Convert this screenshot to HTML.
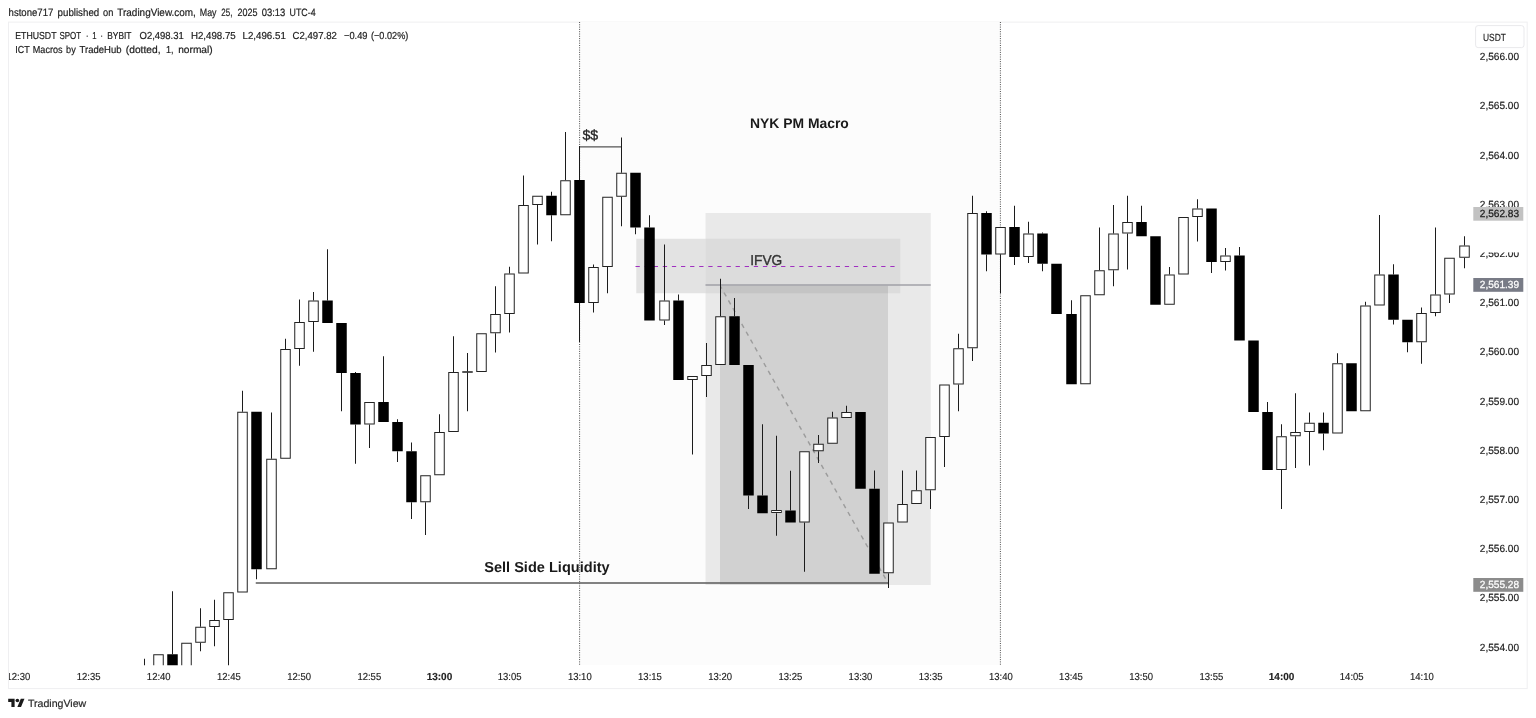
<!DOCTYPE html>
<html lang="en"><head><meta charset="utf-8"><title>ETHUSDT SPOT chart - TradingView</title>
<style>html,body{margin:0;padding:0;background:#fff;overflow:hidden}svg{display:block}text{font-family:'Liberation Sans', Arial, sans-serif;text-rendering:geometricPrecision}</style></head><body>
<svg width="1536" height="718" viewBox="0 0 1536 718">
<rect width="1536" height="718" fill="#fff"/>
<defs><clipPath id="pane"><rect x="9" y="22" width="1517" height="643.30"/></clipPath>
<clipPath id="frame"><rect x="9" y="22" width="1517" height="666"/></clipPath></defs>
<rect x="8.5" y="22.1" width="1518.7" height="666.5" fill="#fff" stroke="#efeff1" stroke-width="1"/>
<g clip-path="url(#pane)">
<rect x="579.5" y="22" width="421" height="643" fill="#fcfcfc"/>
<rect x="636.25" y="238.75" width="70" height="54.5" fill="#e3e3e3"/>
<rect x="705.5" y="213" width="225.25" height="372" fill="#e9e9e9"/>
<rect x="705.5" y="238.75" width="194.75" height="54.5" fill="#dcdcdc"/>
<rect x="720" y="285.75" width="168" height="298.75" fill="#d1d1d1"/>
<rect x="720" y="285.75" width="168" height="7.5" fill="#c4c4c4"/>
<line x1="705.5" y1="284.9" x2="930.75" y2="284.9" stroke="#a0a0a7" stroke-width="1.5"/>
<line x1="635.5" y1="266.5" x2="897.5" y2="266.5" stroke="#a030c0" stroke-width="1" stroke-dasharray="4.3 4.8"/>
<line x1="720.6" y1="286.5" x2="888" y2="583" stroke="#9c9c9c" stroke-width="1.45" stroke-dasharray="4.5 4.5" stroke-dashoffset="2.05"/>
<line x1="579.6" y1="22" x2="579.6" y2="665" stroke="#3a3a3a" stroke-width="0.9" stroke-dasharray="1 1.3"/>
<line x1="1000.4" y1="22" x2="1000.4" y2="665" stroke="#3a3a3a" stroke-width="0.9" stroke-dasharray="1 1.3"/>
<line x1="255.75" y1="583" x2="888" y2="583" stroke="#5a5a5a" stroke-width="1.4"/>
<line x1="579.5" y1="146.8" x2="622" y2="146.8" stroke="#555" stroke-width="1.2"/>
<line x1="144.50" y1="658.75" x2="144.50" y2="690.00" stroke="#1c1c1c" stroke-width="1"/>
<rect x="139.75" y="690.50" width="9.50" height="9.00" fill="#fff" stroke="#222" stroke-width="1"/>
<rect x="153.75" y="654.75" width="9.50" height="44.75" fill="#fff" stroke="#222" stroke-width="1"/>
<line x1="172.50" y1="591.25" x2="172.50" y2="654.25" stroke="#1c1c1c" stroke-width="1"/>
<rect x="167.25" y="654.25" width="10.50" height="45.75" fill="#000"/>
<rect x="181.75" y="643.25" width="9.50" height="56.25" fill="#fff" stroke="#222" stroke-width="1"/>
<line x1="200.50" y1="608.25" x2="200.50" y2="626.75" stroke="#1c1c1c" stroke-width="1"/>
<line x1="200.50" y1="642.75" x2="200.50" y2="651.25" stroke="#1c1c1c" stroke-width="1"/>
<rect x="195.75" y="627.25" width="9.50" height="15.00" fill="#fff" stroke="#222" stroke-width="1"/>
<line x1="214.50" y1="599.75" x2="214.50" y2="620.00" stroke="#1c1c1c" stroke-width="1"/>
<line x1="214.50" y1="627.00" x2="214.50" y2="646.25" stroke="#1c1c1c" stroke-width="1"/>
<rect x="209.75" y="620.50" width="9.50" height="6.00" fill="#fff" stroke="#222" stroke-width="1"/>
<line x1="228.50" y1="620.00" x2="228.50" y2="700.00" stroke="#1c1c1c" stroke-width="1"/>
<rect x="223.75" y="592.75" width="9.50" height="26.75" fill="#fff" stroke="#222" stroke-width="1"/>
<line x1="242.50" y1="390.75" x2="242.50" y2="411.75" stroke="#1c1c1c" stroke-width="1"/>
<rect x="237.75" y="412.25" width="9.50" height="179.75" fill="#fff" stroke="#222" stroke-width="1"/>
<line x1="256.50" y1="569.25" x2="256.50" y2="579.25" stroke="#1c1c1c" stroke-width="1"/>
<rect x="251.25" y="411.75" width="10.50" height="157.50" fill="#000"/>
<line x1="271.50" y1="412.50" x2="271.50" y2="458.75" stroke="#1c1c1c" stroke-width="1"/>
<rect x="266.75" y="459.25" width="9.50" height="109.50" fill="#fff" stroke="#222" stroke-width="1"/>
<line x1="285.50" y1="338.75" x2="285.50" y2="349.00" stroke="#1c1c1c" stroke-width="1"/>
<rect x="280.75" y="349.50" width="9.50" height="108.75" fill="#fff" stroke="#222" stroke-width="1"/>
<line x1="299.50" y1="299.50" x2="299.50" y2="322.00" stroke="#1c1c1c" stroke-width="1"/>
<line x1="299.50" y1="349.00" x2="299.50" y2="365.75" stroke="#1c1c1c" stroke-width="1"/>
<rect x="294.75" y="322.50" width="9.50" height="26.00" fill="#fff" stroke="#222" stroke-width="1"/>
<line x1="313.50" y1="292.00" x2="313.50" y2="300.50" stroke="#1c1c1c" stroke-width="1"/>
<line x1="313.50" y1="322.00" x2="313.50" y2="351.75" stroke="#1c1c1c" stroke-width="1"/>
<rect x="308.75" y="301.00" width="9.50" height="20.50" fill="#fff" stroke="#222" stroke-width="1"/>
<line x1="327.50" y1="249.25" x2="327.50" y2="300.50" stroke="#1c1c1c" stroke-width="1"/>
<rect x="322.25" y="300.50" width="10.50" height="22.50" fill="#000"/>
<line x1="341.50" y1="373.00" x2="341.50" y2="411.25" stroke="#1c1c1c" stroke-width="1"/>
<rect x="336.25" y="323.00" width="10.50" height="50.00" fill="#000"/>
<line x1="355.50" y1="372.00" x2="355.50" y2="373.00" stroke="#1c1c1c" stroke-width="1"/>
<line x1="355.50" y1="424.50" x2="355.50" y2="463.75" stroke="#1c1c1c" stroke-width="1"/>
<rect x="350.25" y="373.00" width="10.50" height="51.50" fill="#000"/>
<line x1="369.50" y1="424.50" x2="369.50" y2="448.00" stroke="#1c1c1c" stroke-width="1"/>
<rect x="364.75" y="402.50" width="9.50" height="21.50" fill="#fff" stroke="#222" stroke-width="1"/>
<line x1="383.50" y1="356.25" x2="383.50" y2="402.00" stroke="#1c1c1c" stroke-width="1"/>
<rect x="378.25" y="402.00" width="10.50" height="20.00" fill="#000"/>
<line x1="397.50" y1="419.25" x2="397.50" y2="422.00" stroke="#1c1c1c" stroke-width="1"/>
<line x1="397.50" y1="451.25" x2="397.50" y2="462.00" stroke="#1c1c1c" stroke-width="1"/>
<rect x="392.25" y="422.00" width="10.50" height="29.25" fill="#000"/>
<line x1="411.50" y1="442.50" x2="411.50" y2="451.25" stroke="#1c1c1c" stroke-width="1"/>
<line x1="411.50" y1="502.25" x2="411.50" y2="519.00" stroke="#1c1c1c" stroke-width="1"/>
<rect x="406.25" y="451.25" width="10.50" height="51.00" fill="#000"/>
<line x1="425.50" y1="502.25" x2="425.50" y2="535.00" stroke="#1c1c1c" stroke-width="1"/>
<rect x="420.75" y="475.75" width="9.50" height="26.00" fill="#fff" stroke="#222" stroke-width="1"/>
<line x1="439.50" y1="414.25" x2="439.50" y2="432.00" stroke="#1c1c1c" stroke-width="1"/>
<rect x="434.75" y="432.50" width="9.50" height="42.25" fill="#fff" stroke="#222" stroke-width="1"/>
<line x1="453.50" y1="336.25" x2="453.50" y2="372.00" stroke="#1c1c1c" stroke-width="1"/>
<rect x="448.75" y="372.50" width="9.50" height="59.00" fill="#fff" stroke="#222" stroke-width="1"/>
<line x1="467.50" y1="353.00" x2="467.50" y2="371.50" stroke="#1c1c1c" stroke-width="1"/>
<line x1="467.50" y1="372.50" x2="467.50" y2="411.25" stroke="#1c1c1c" stroke-width="1"/>
<line x1="462.25" y1="372.00" x2="472.75" y2="372.00" stroke="#1c1c1c" stroke-width="1.5"/>
<rect x="476.75" y="333.75" width="9.50" height="37.75" fill="#fff" stroke="#222" stroke-width="1"/>
<line x1="495.50" y1="286.25" x2="495.50" y2="314.00" stroke="#1c1c1c" stroke-width="1"/>
<line x1="495.50" y1="333.25" x2="495.50" y2="352.50" stroke="#1c1c1c" stroke-width="1"/>
<rect x="490.75" y="314.50" width="9.50" height="18.25" fill="#fff" stroke="#222" stroke-width="1"/>
<line x1="509.50" y1="266.75" x2="509.50" y2="273.50" stroke="#1c1c1c" stroke-width="1"/>
<line x1="509.50" y1="314.00" x2="509.50" y2="332.50" stroke="#1c1c1c" stroke-width="1"/>
<rect x="504.75" y="274.00" width="9.50" height="39.50" fill="#fff" stroke="#222" stroke-width="1"/>
<line x1="523.50" y1="175.50" x2="523.50" y2="205.00" stroke="#1c1c1c" stroke-width="1"/>
<rect x="518.75" y="205.50" width="9.50" height="67.50" fill="#fff" stroke="#222" stroke-width="1"/>
<line x1="537.50" y1="205.00" x2="537.50" y2="244.50" stroke="#1c1c1c" stroke-width="1"/>
<rect x="532.75" y="196.25" width="9.50" height="8.25" fill="#fff" stroke="#222" stroke-width="1"/>
<line x1="551.50" y1="191.75" x2="551.50" y2="195.75" stroke="#1c1c1c" stroke-width="1"/>
<line x1="551.50" y1="215.25" x2="551.50" y2="241.25" stroke="#1c1c1c" stroke-width="1"/>
<rect x="546.25" y="195.75" width="10.50" height="19.50" fill="#000"/>
<line x1="565.50" y1="132.00" x2="565.50" y2="180.25" stroke="#1c1c1c" stroke-width="1"/>
<rect x="560.75" y="180.75" width="9.50" height="34.00" fill="#fff" stroke="#222" stroke-width="1"/>
<line x1="579.50" y1="146.00" x2="579.50" y2="180.00" stroke="#1c1c1c" stroke-width="1"/>
<line x1="579.50" y1="303.00" x2="579.50" y2="342.00" stroke="#1c1c1c" stroke-width="1"/>
<rect x="574.25" y="180.00" width="10.50" height="123.00" fill="#000"/>
<line x1="593.50" y1="264.50" x2="593.50" y2="267.00" stroke="#1c1c1c" stroke-width="1"/>
<line x1="593.50" y1="303.00" x2="593.50" y2="312.50" stroke="#1c1c1c" stroke-width="1"/>
<rect x="588.75" y="267.50" width="9.50" height="35.00" fill="#fff" stroke="#222" stroke-width="1"/>
<line x1="607.50" y1="267.00" x2="607.50" y2="293.25" stroke="#1c1c1c" stroke-width="1"/>
<rect x="602.75" y="197.25" width="9.50" height="69.25" fill="#fff" stroke="#222" stroke-width="1"/>
<line x1="621.50" y1="137.50" x2="621.50" y2="172.75" stroke="#1c1c1c" stroke-width="1"/>
<line x1="621.50" y1="196.75" x2="621.50" y2="226.25" stroke="#1c1c1c" stroke-width="1"/>
<rect x="616.75" y="173.25" width="9.50" height="23.00" fill="#fff" stroke="#222" stroke-width="1"/>
<line x1="635.50" y1="227.50" x2="635.50" y2="234.25" stroke="#1c1c1c" stroke-width="1"/>
<rect x="630.25" y="172.75" width="10.50" height="54.75" fill="#000"/>
<line x1="649.50" y1="215.25" x2="649.50" y2="227.50" stroke="#1c1c1c" stroke-width="1"/>
<rect x="644.25" y="227.50" width="10.50" height="93.00" fill="#000"/>
<line x1="664.50" y1="244.50" x2="664.50" y2="300.50" stroke="#1c1c1c" stroke-width="1"/>
<line x1="664.50" y1="320.50" x2="664.50" y2="325.00" stroke="#1c1c1c" stroke-width="1"/>
<rect x="659.75" y="301.00" width="9.50" height="19.00" fill="#fff" stroke="#222" stroke-width="1"/>
<line x1="678.50" y1="294.50" x2="678.50" y2="300.50" stroke="#1c1c1c" stroke-width="1"/>
<rect x="673.25" y="300.50" width="10.50" height="79.50" fill="#000"/>
<line x1="692.50" y1="380.00" x2="692.50" y2="454.50" stroke="#1c1c1c" stroke-width="1"/>
<rect x="687.75" y="376.50" width="9.50" height="3.00" fill="#fff" stroke="#222" stroke-width="1"/>
<line x1="706.50" y1="343.00" x2="706.50" y2="365.00" stroke="#1c1c1c" stroke-width="1"/>
<line x1="706.50" y1="376.00" x2="706.50" y2="397.00" stroke="#1c1c1c" stroke-width="1"/>
<rect x="701.75" y="365.50" width="9.50" height="10.00" fill="#fff" stroke="#222" stroke-width="1"/>
<line x1="720.50" y1="278.75" x2="720.50" y2="316.25" stroke="#1c1c1c" stroke-width="1"/>
<rect x="715.75" y="316.75" width="9.50" height="47.75" fill="#fff" stroke="#222" stroke-width="1"/>
<line x1="734.50" y1="298.00" x2="734.50" y2="316.25" stroke="#1c1c1c" stroke-width="1"/>
<rect x="729.25" y="316.25" width="10.50" height="48.75" fill="#000"/>
<line x1="748.50" y1="495.50" x2="748.50" y2="509.00" stroke="#1c1c1c" stroke-width="1"/>
<rect x="743.25" y="365.00" width="10.50" height="130.50" fill="#000"/>
<line x1="762.50" y1="424.25" x2="762.50" y2="495.50" stroke="#1c1c1c" stroke-width="1"/>
<rect x="757.25" y="495.50" width="10.50" height="17.75" fill="#000"/>
<line x1="776.50" y1="435.75" x2="776.50" y2="510.50" stroke="#1c1c1c" stroke-width="1"/>
<line x1="776.50" y1="513.25" x2="776.50" y2="535.75" stroke="#1c1c1c" stroke-width="1"/>
<rect x="771.75" y="510.50" width="9.50" height="2.00" fill="#fff" stroke="#222" stroke-width="1"/>
<line x1="790.50" y1="470.75" x2="790.50" y2="510.50" stroke="#1c1c1c" stroke-width="1"/>
<rect x="785.25" y="510.50" width="10.50" height="12.00" fill="#000"/>
<line x1="804.50" y1="522.50" x2="804.50" y2="571.75" stroke="#1c1c1c" stroke-width="1"/>
<rect x="799.75" y="451.75" width="9.50" height="70.25" fill="#fff" stroke="#222" stroke-width="1"/>
<line x1="818.50" y1="435.00" x2="818.50" y2="443.75" stroke="#1c1c1c" stroke-width="1"/>
<line x1="818.50" y1="451.25" x2="818.50" y2="463.00" stroke="#1c1c1c" stroke-width="1"/>
<rect x="813.75" y="444.25" width="9.50" height="6.50" fill="#fff" stroke="#222" stroke-width="1"/>
<line x1="832.50" y1="411.75" x2="832.50" y2="417.50" stroke="#1c1c1c" stroke-width="1"/>
<rect x="827.75" y="418.00" width="9.50" height="25.25" fill="#fff" stroke="#222" stroke-width="1"/>
<line x1="846.50" y1="405.75" x2="846.50" y2="412.00" stroke="#1c1c1c" stroke-width="1"/>
<rect x="841.75" y="412.50" width="9.50" height="5.00" fill="#fff" stroke="#222" stroke-width="1"/>
<rect x="855.25" y="412.00" width="10.50" height="76.75" fill="#000"/>
<line x1="874.50" y1="470.50" x2="874.50" y2="488.75" stroke="#1c1c1c" stroke-width="1"/>
<rect x="869.25" y="488.75" width="10.50" height="85.00" fill="#000"/>
<line x1="888.50" y1="573.25" x2="888.50" y2="588.00" stroke="#1c1c1c" stroke-width="1"/>
<rect x="883.75" y="523.00" width="9.50" height="49.75" fill="#fff" stroke="#222" stroke-width="1"/>
<line x1="902.50" y1="470.50" x2="902.50" y2="504.00" stroke="#1c1c1c" stroke-width="1"/>
<rect x="897.75" y="504.50" width="9.50" height="17.50" fill="#fff" stroke="#222" stroke-width="1"/>
<line x1="916.50" y1="470.50" x2="916.50" y2="490.25" stroke="#1c1c1c" stroke-width="1"/>
<rect x="911.75" y="490.75" width="9.50" height="12.75" fill="#fff" stroke="#222" stroke-width="1"/>
<line x1="930.50" y1="490.25" x2="930.50" y2="509.00" stroke="#1c1c1c" stroke-width="1"/>
<rect x="925.75" y="437.50" width="9.50" height="52.25" fill="#fff" stroke="#222" stroke-width="1"/>
<line x1="944.50" y1="437.00" x2="944.50" y2="467.00" stroke="#1c1c1c" stroke-width="1"/>
<rect x="939.75" y="385.00" width="9.50" height="51.50" fill="#fff" stroke="#222" stroke-width="1"/>
<line x1="958.50" y1="333.75" x2="958.50" y2="348.25" stroke="#1c1c1c" stroke-width="1"/>
<line x1="958.50" y1="384.50" x2="958.50" y2="411.25" stroke="#1c1c1c" stroke-width="1"/>
<rect x="953.75" y="348.75" width="9.50" height="35.25" fill="#fff" stroke="#222" stroke-width="1"/>
<line x1="972.50" y1="195.75" x2="972.50" y2="213.00" stroke="#1c1c1c" stroke-width="1"/>
<line x1="972.50" y1="348.25" x2="972.50" y2="361.00" stroke="#1c1c1c" stroke-width="1"/>
<rect x="967.75" y="213.50" width="9.50" height="134.25" fill="#fff" stroke="#222" stroke-width="1"/>
<line x1="986.50" y1="211.25" x2="986.50" y2="213.00" stroke="#1c1c1c" stroke-width="1"/>
<line x1="986.50" y1="254.50" x2="986.50" y2="271.25" stroke="#1c1c1c" stroke-width="1"/>
<rect x="981.25" y="213.00" width="10.50" height="41.50" fill="#000"/>
<line x1="1000.50" y1="254.50" x2="1000.50" y2="293.25" stroke="#1c1c1c" stroke-width="1"/>
<rect x="995.75" y="227.50" width="9.50" height="26.50" fill="#fff" stroke="#222" stroke-width="1"/>
<line x1="1014.50" y1="205.75" x2="1014.50" y2="227.00" stroke="#1c1c1c" stroke-width="1"/>
<line x1="1014.50" y1="257.00" x2="1014.50" y2="265.00" stroke="#1c1c1c" stroke-width="1"/>
<rect x="1009.25" y="227.00" width="10.50" height="30.00" fill="#000"/>
<line x1="1028.50" y1="221.75" x2="1028.50" y2="233.50" stroke="#1c1c1c" stroke-width="1"/>
<line x1="1028.50" y1="257.00" x2="1028.50" y2="263.00" stroke="#1c1c1c" stroke-width="1"/>
<rect x="1023.75" y="234.00" width="9.50" height="22.50" fill="#fff" stroke="#222" stroke-width="1"/>
<line x1="1042.50" y1="232.50" x2="1042.50" y2="233.50" stroke="#1c1c1c" stroke-width="1"/>
<line x1="1042.50" y1="263.75" x2="1042.50" y2="271.25" stroke="#1c1c1c" stroke-width="1"/>
<rect x="1037.25" y="233.50" width="10.50" height="30.25" fill="#000"/>
<rect x="1051.25" y="263.75" width="10.50" height="50.25" fill="#000"/>
<line x1="1071.50" y1="300.25" x2="1071.50" y2="314.00" stroke="#1c1c1c" stroke-width="1"/>
<rect x="1066.25" y="314.00" width="10.50" height="70.25" fill="#000"/>
<rect x="1080.75" y="295.75" width="9.50" height="88.00" fill="#fff" stroke="#222" stroke-width="1"/>
<line x1="1099.50" y1="227.50" x2="1099.50" y2="270.25" stroke="#1c1c1c" stroke-width="1"/>
<rect x="1094.75" y="270.75" width="9.50" height="24.00" fill="#fff" stroke="#222" stroke-width="1"/>
<line x1="1113.50" y1="205.00" x2="1113.50" y2="233.50" stroke="#1c1c1c" stroke-width="1"/>
<line x1="1113.50" y1="270.25" x2="1113.50" y2="286.25" stroke="#1c1c1c" stroke-width="1"/>
<rect x="1108.75" y="234.00" width="9.50" height="35.75" fill="#fff" stroke="#222" stroke-width="1"/>
<line x1="1127.50" y1="195.75" x2="1127.50" y2="222.00" stroke="#1c1c1c" stroke-width="1"/>
<line x1="1127.50" y1="233.50" x2="1127.50" y2="269.50" stroke="#1c1c1c" stroke-width="1"/>
<rect x="1122.75" y="222.50" width="9.50" height="10.50" fill="#fff" stroke="#222" stroke-width="1"/>
<line x1="1141.50" y1="205.75" x2="1141.50" y2="222.00" stroke="#1c1c1c" stroke-width="1"/>
<rect x="1136.25" y="222.00" width="10.50" height="14.25" fill="#000"/>
<rect x="1150.25" y="236.25" width="10.50" height="68.50" fill="#000"/>
<line x1="1169.50" y1="267.00" x2="1169.50" y2="274.50" stroke="#1c1c1c" stroke-width="1"/>
<rect x="1164.75" y="275.00" width="9.50" height="29.25" fill="#fff" stroke="#222" stroke-width="1"/>
<rect x="1178.75" y="217.50" width="9.50" height="56.50" fill="#fff" stroke="#222" stroke-width="1"/>
<line x1="1197.50" y1="199.25" x2="1197.50" y2="208.50" stroke="#1c1c1c" stroke-width="1"/>
<line x1="1197.50" y1="217.00" x2="1197.50" y2="241.50" stroke="#1c1c1c" stroke-width="1"/>
<rect x="1192.75" y="209.00" width="9.50" height="7.50" fill="#fff" stroke="#222" stroke-width="1"/>
<line x1="1211.50" y1="262.00" x2="1211.50" y2="273.00" stroke="#1c1c1c" stroke-width="1"/>
<rect x="1206.25" y="208.50" width="10.50" height="53.50" fill="#000"/>
<line x1="1225.50" y1="248.00" x2="1225.50" y2="255.50" stroke="#1c1c1c" stroke-width="1"/>
<line x1="1225.50" y1="262.00" x2="1225.50" y2="270.50" stroke="#1c1c1c" stroke-width="1"/>
<rect x="1220.75" y="256.00" width="9.50" height="5.50" fill="#fff" stroke="#222" stroke-width="1"/>
<line x1="1239.50" y1="247.00" x2="1239.50" y2="255.50" stroke="#1c1c1c" stroke-width="1"/>
<rect x="1234.25" y="255.50" width="10.50" height="85.00" fill="#000"/>
<rect x="1248.25" y="340.50" width="10.50" height="71.50" fill="#000"/>
<line x1="1267.50" y1="402.00" x2="1267.50" y2="412.00" stroke="#1c1c1c" stroke-width="1"/>
<rect x="1262.25" y="412.00" width="10.50" height="58.00" fill="#000"/>
<line x1="1281.50" y1="424.25" x2="1281.50" y2="436.25" stroke="#1c1c1c" stroke-width="1"/>
<line x1="1281.50" y1="470.00" x2="1281.50" y2="509.00" stroke="#1c1c1c" stroke-width="1"/>
<rect x="1276.75" y="436.75" width="9.50" height="32.75" fill="#fff" stroke="#222" stroke-width="1"/>
<line x1="1295.50" y1="393.25" x2="1295.50" y2="432.00" stroke="#1c1c1c" stroke-width="1"/>
<line x1="1295.50" y1="436.25" x2="1295.50" y2="468.00" stroke="#1c1c1c" stroke-width="1"/>
<rect x="1290.75" y="432.50" width="9.50" height="3.25" fill="#fff" stroke="#222" stroke-width="1"/>
<line x1="1309.50" y1="412.50" x2="1309.50" y2="422.75" stroke="#1c1c1c" stroke-width="1"/>
<line x1="1309.50" y1="432.00" x2="1309.50" y2="465.50" stroke="#1c1c1c" stroke-width="1"/>
<rect x="1304.75" y="423.25" width="9.50" height="8.25" fill="#fff" stroke="#222" stroke-width="1"/>
<line x1="1323.50" y1="412.50" x2="1323.50" y2="422.75" stroke="#1c1c1c" stroke-width="1"/>
<line x1="1323.50" y1="433.50" x2="1323.50" y2="450.25" stroke="#1c1c1c" stroke-width="1"/>
<rect x="1318.25" y="422.75" width="10.50" height="10.75" fill="#000"/>
<line x1="1337.50" y1="353.25" x2="1337.50" y2="363.25" stroke="#1c1c1c" stroke-width="1"/>
<rect x="1332.75" y="363.75" width="9.50" height="69.25" fill="#fff" stroke="#222" stroke-width="1"/>
<rect x="1346.25" y="363.25" width="10.50" height="48.00" fill="#000"/>
<line x1="1365.50" y1="301.75" x2="1365.50" y2="305.50" stroke="#1c1c1c" stroke-width="1"/>
<rect x="1360.75" y="306.00" width="9.50" height="104.75" fill="#fff" stroke="#222" stroke-width="1"/>
<line x1="1379.50" y1="215.00" x2="1379.50" y2="274.50" stroke="#1c1c1c" stroke-width="1"/>
<rect x="1374.75" y="275.00" width="9.50" height="30.00" fill="#fff" stroke="#222" stroke-width="1"/>
<line x1="1393.50" y1="264.25" x2="1393.50" y2="274.50" stroke="#1c1c1c" stroke-width="1"/>
<line x1="1393.50" y1="319.75" x2="1393.50" y2="324.50" stroke="#1c1c1c" stroke-width="1"/>
<rect x="1388.25" y="274.50" width="10.50" height="45.25" fill="#000"/>
<line x1="1407.50" y1="342.25" x2="1407.50" y2="352.25" stroke="#1c1c1c" stroke-width="1"/>
<rect x="1402.25" y="319.75" width="10.50" height="22.50" fill="#000"/>
<line x1="1421.50" y1="307.50" x2="1421.50" y2="313.00" stroke="#1c1c1c" stroke-width="1"/>
<line x1="1421.50" y1="342.25" x2="1421.50" y2="363.75" stroke="#1c1c1c" stroke-width="1"/>
<rect x="1416.75" y="313.50" width="9.50" height="28.25" fill="#fff" stroke="#222" stroke-width="1"/>
<line x1="1435.50" y1="227.50" x2="1435.50" y2="294.50" stroke="#1c1c1c" stroke-width="1"/>
<line x1="1435.50" y1="313.00" x2="1435.50" y2="316.25" stroke="#1c1c1c" stroke-width="1"/>
<rect x="1430.75" y="295.00" width="9.50" height="17.50" fill="#fff" stroke="#222" stroke-width="1"/>
<line x1="1449.50" y1="294.50" x2="1449.50" y2="303.00" stroke="#1c1c1c" stroke-width="1"/>
<rect x="1444.75" y="258.25" width="9.50" height="35.75" fill="#fff" stroke="#222" stroke-width="1"/>
<line x1="1464.50" y1="236.25" x2="1464.50" y2="245.50" stroke="#1c1c1c" stroke-width="1"/>
<line x1="1464.50" y1="257.75" x2="1464.50" y2="268.25" stroke="#1c1c1c" stroke-width="1"/>
<rect x="1459.75" y="246.00" width="9.50" height="11.25" fill="#fff" stroke="#222" stroke-width="1"/>
</g>
<text x="750" y="127.6" font-size="14" font-weight="700" fill="#1a1a1a" textLength="98.8" lengthAdjust="spacingAndGlyphs">NYK PM Macro</text>
<text x="750.3" y="264.9" font-size="14.25" fill="#333" stroke="#333" stroke-width="0.35" textLength="32" lengthAdjust="spacingAndGlyphs">IFVG</text>
<text x="582.4" y="139.6" font-size="14.6" fill="#222" stroke="#222" stroke-width="0.3" textLength="15.8" lengthAdjust="spacingAndGlyphs">$$</text>
<text x="484.2" y="572" font-size="14.5" font-weight="700" fill="#1a1a1a" textLength="125.5" lengthAdjust="spacingAndGlyphs">Sell Side Liquidity</text>
<text y="16.0" font-size="10.6" fill="#1e1e1e" stroke="#1e1e1e" stroke-width="0.2" xml:space="preserve"><tspan x="8.6" textLength="44.7" lengthAdjust="spacingAndGlyphs">hstone717</tspan> <tspan x="57.6" textLength="41.6" lengthAdjust="spacingAndGlyphs">published</tspan> <tspan x="103.1" textLength="10.3" lengthAdjust="spacingAndGlyphs">on</tspan> <tspan x="117.3" textLength="78.6" lengthAdjust="spacingAndGlyphs">TradingView.com,</tspan> <tspan x="199.8" textLength="16.7" lengthAdjust="spacingAndGlyphs">May</tspan> <tspan x="221.3" textLength="11.1" lengthAdjust="spacingAndGlyphs">25,</tspan> <tspan x="237.4" textLength="20.0" lengthAdjust="spacingAndGlyphs">2025</tspan> <tspan x="261.7" textLength="23.6" lengthAdjust="spacingAndGlyphs">03:13</tspan> <tspan x="289.6" textLength="26.0" lengthAdjust="spacingAndGlyphs">UTC-4</tspan></text>
<text y="38.5" font-size="10.1" fill="#222" stroke="#222" stroke-width="0.2" xml:space="preserve"><tspan x="15.3" textLength="41.0" lengthAdjust="spacingAndGlyphs">ETHUSDT</tspan> <tspan x="59.4" textLength="21.5" lengthAdjust="spacingAndGlyphs">SPOT</tspan> <tspan x="85.9" textLength="2.4" lengthAdjust="spacingAndGlyphs">·</tspan> <tspan x="92.3" textLength="4.3" lengthAdjust="spacingAndGlyphs">1</tspan> <tspan x="100.6" textLength="2.4" lengthAdjust="spacingAndGlyphs">·</tspan> <tspan x="107.2" textLength="24.1" lengthAdjust="spacingAndGlyphs">BYBIT</tspan> <tspan x="139.5" textLength="44.3" lengthAdjust="spacingAndGlyphs">O2,498.31</tspan> <tspan x="190.9" textLength="44.8" lengthAdjust="spacingAndGlyphs">H2,498.75</tspan> <tspan x="242.5" textLength="43.3" lengthAdjust="spacingAndGlyphs">L2,496.51</tspan> <tspan x="292.6" textLength="44.3" lengthAdjust="spacingAndGlyphs">C2,497.82</tspan> <tspan x="344.0" textLength="23.5" lengthAdjust="spacingAndGlyphs">−0.49</tspan> <tspan x="371.0" textLength="37.3" lengthAdjust="spacingAndGlyphs">(−0.02%)</tspan></text>
<text y="52.7" font-size="10.1" fill="#222" stroke="#222" stroke-width="0.2" xml:space="preserve"><tspan x="15.3" textLength="14.2" lengthAdjust="spacingAndGlyphs">ICT</tspan> <tspan x="32.8" textLength="29.7" lengthAdjust="spacingAndGlyphs">Macros</tspan> <tspan x="66.1" textLength="9.7" lengthAdjust="spacingAndGlyphs">by</tspan> <tspan x="79.6" textLength="41.9" lengthAdjust="spacingAndGlyphs">TradeHub</tspan> <tspan x="125.8" textLength="34.7" lengthAdjust="spacingAndGlyphs">(dotted,</tspan> <tspan x="166.0" textLength="7.5" lengthAdjust="spacingAndGlyphs">1,</tspan> <tspan x="178.2" textLength="34.5" lengthAdjust="spacingAndGlyphs">normal)</tspan></text>
<g clip-path="url(#frame)" font-size="10.2" fill="#222" stroke="#222" stroke-width="0.15">
<text x="6.50" y="680.2" textLength="23.8" lengthAdjust="spacingAndGlyphs" >12:30</text>
<text x="76.67" y="680.2" textLength="23.8" lengthAdjust="spacingAndGlyphs" >12:35</text>
<text x="146.85" y="680.2" textLength="23.8" lengthAdjust="spacingAndGlyphs" >12:40</text>
<text x="217.03" y="680.2" textLength="23.8" lengthAdjust="spacingAndGlyphs" >12:45</text>
<text x="287.20" y="680.2" textLength="23.8" lengthAdjust="spacingAndGlyphs" >12:50</text>
<text x="357.38" y="680.2" textLength="23.8" lengthAdjust="spacingAndGlyphs" >12:55</text>
<text x="426.65" y="680.2" textLength="25.6" lengthAdjust="spacingAndGlyphs" font-weight="700">13:00</text>
<text x="497.73" y="680.2" textLength="23.8" lengthAdjust="spacingAndGlyphs" >13:05</text>
<text x="567.90" y="680.2" textLength="23.8" lengthAdjust="spacingAndGlyphs" >13:10</text>
<text x="638.08" y="680.2" textLength="23.8" lengthAdjust="spacingAndGlyphs" >13:15</text>
<text x="708.25" y="680.2" textLength="23.8" lengthAdjust="spacingAndGlyphs" >13:20</text>
<text x="778.43" y="680.2" textLength="23.8" lengthAdjust="spacingAndGlyphs" >13:25</text>
<text x="848.60" y="680.2" textLength="23.8" lengthAdjust="spacingAndGlyphs" >13:30</text>
<text x="918.77" y="680.2" textLength="23.8" lengthAdjust="spacingAndGlyphs" >13:35</text>
<text x="988.95" y="680.2" textLength="23.8" lengthAdjust="spacingAndGlyphs" >13:40</text>
<text x="1059.12" y="680.2" textLength="23.8" lengthAdjust="spacingAndGlyphs" >13:45</text>
<text x="1129.30" y="680.2" textLength="23.8" lengthAdjust="spacingAndGlyphs" >13:50</text>
<text x="1199.47" y="680.2" textLength="23.8" lengthAdjust="spacingAndGlyphs" >13:55</text>
<text x="1268.75" y="680.2" textLength="25.6" lengthAdjust="spacingAndGlyphs" font-weight="700">14:00</text>
<text x="1339.82" y="680.2" textLength="23.8" lengthAdjust="spacingAndGlyphs" >14:05</text>
<text x="1410.00" y="680.2" textLength="23.8" lengthAdjust="spacingAndGlyphs" >14:10</text>
</g>
<g font-size="10.4" fill="#222" stroke="#222" stroke-width="0.18">
<text x="1479.8" y="650.62" textLength="39.3" lengthAdjust="spacingAndGlyphs">2,554.00</text>
<text x="1479.8" y="601.41" textLength="39.3" lengthAdjust="spacingAndGlyphs">2,555.00</text>
<text x="1479.8" y="552.20" textLength="39.3" lengthAdjust="spacingAndGlyphs">2,556.00</text>
<text x="1479.8" y="502.99" textLength="39.3" lengthAdjust="spacingAndGlyphs">2,557.00</text>
<text x="1479.8" y="453.78" textLength="39.3" lengthAdjust="spacingAndGlyphs">2,558.00</text>
<text x="1479.8" y="404.57" textLength="39.3" lengthAdjust="spacingAndGlyphs">2,559.00</text>
<text x="1479.8" y="355.36" textLength="39.3" lengthAdjust="spacingAndGlyphs">2,560.00</text>
<text x="1479.8" y="306.15" textLength="39.3" lengthAdjust="spacingAndGlyphs">2,561.00</text>
<text x="1479.8" y="256.94" textLength="39.3" lengthAdjust="spacingAndGlyphs">2,562.00</text>
<text x="1479.8" y="207.73" textLength="39.3" lengthAdjust="spacingAndGlyphs">2,563.00</text>
<text x="1479.8" y="158.52" textLength="39.3" lengthAdjust="spacingAndGlyphs">2,564.00</text>
<text x="1479.8" y="109.31" textLength="39.3" lengthAdjust="spacingAndGlyphs">2,565.00</text>
<text x="1479.8" y="60.10" textLength="39.3" lengthAdjust="spacingAndGlyphs">2,566.00</text>
</g>
<rect x="1473" y="239" width="51" height="13.4" fill="#fff"/>
<rect x="1473.3" y="207" width="50" height="13.7" fill="#c2c2c2"/>
<text x="1479.8" y="216.9" font-size="10.4" fill="#1a1a1a" stroke="#1a1a1a" stroke-width="0.25" textLength="39.3" lengthAdjust="spacingAndGlyphs">2,562.83</text>
<rect x="1473.3" y="278" width="50" height="13.8" fill="#787b86"/>
<text x="1479.8" y="288.0" font-size="10.4" fill="#fff" stroke="#fff" stroke-width="0.25" textLength="39.3" lengthAdjust="spacingAndGlyphs">2,561.39</text>
<rect x="1473.3" y="578" width="50" height="13.8" fill="#8c8c8c"/>
<text x="1479.8" y="588.1" font-size="10.4" fill="#fff" stroke="#fff" stroke-width="0.25" textLength="39.3" lengthAdjust="spacingAndGlyphs">2,555.28</text>
<rect x="1475.6" y="25.6" width="48.4" height="22" rx="2.5" fill="#fff" stroke="#e9e9ec" stroke-width="1"/>
<text x="1483" y="40.7" font-size="10.3" fill="#222" stroke="#222" stroke-width="0.15" textLength="23" lengthAdjust="spacingAndGlyphs">USDT</text>
<g fill="#1a1a1a" transform="translate(8.2,696.85) scale(0.458)">
<path d="M14 22H7V11H0V4h14v18z"/>
<circle cx="20" cy="8" r="4"/>
<path d="M28 22h-8l7.5-18h8L28 22z"/>
</g>
<text x="27.9" y="706.8" font-size="10.5" fill="#2a2a2a" stroke="#2a2a2a" stroke-width="0.2" textLength="58.3" lengthAdjust="spacingAndGlyphs">TradingView</text>
</svg></body></html>
